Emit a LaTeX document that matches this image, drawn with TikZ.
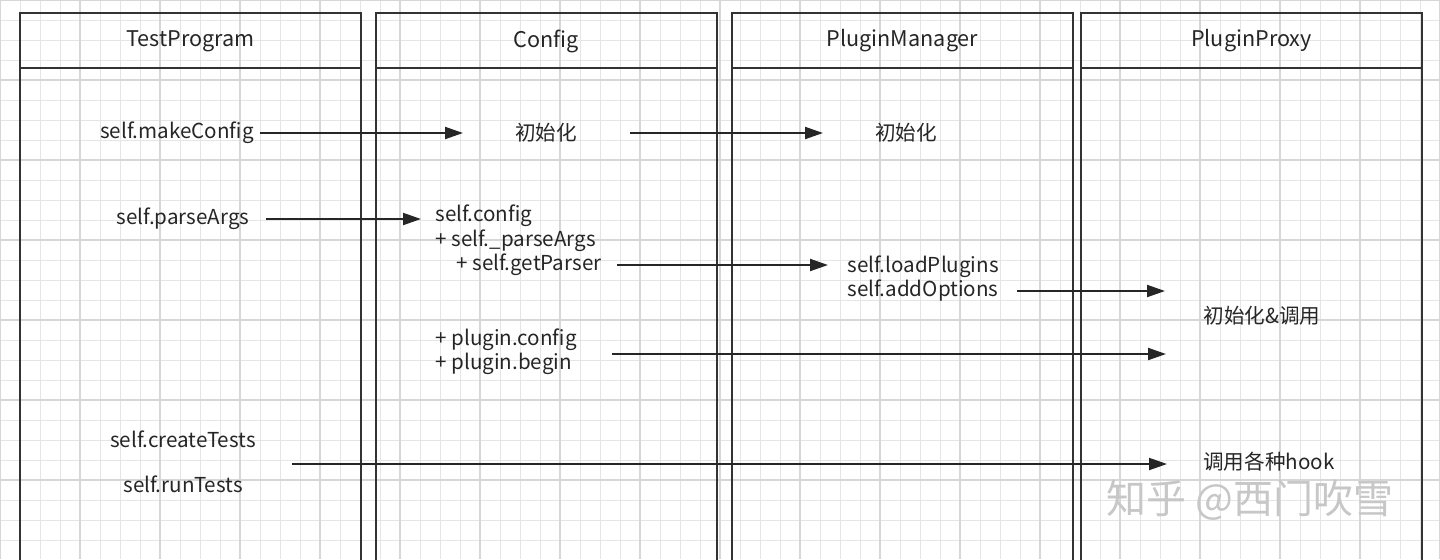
\documentclass[tikz,border=0pt]{standalone}
\usepackage{fontspec}
\setmainfont{Noto Sans CJK SC}
\usetikzlibrary{arrows.meta}
\begin{document}
\begin{tikzpicture}[x=0.5pt,y=-0.5pt,
  lane/.style={draw=black!80,line width=1.4pt},
  lbl/.style={font=\fontsize{10.3}{12}\selectfont,text=black!85,inner sep=0pt},
  lft/.style={lbl,anchor=west},
  msg/.style={draw=black!85,line width=1pt,-{Triangle[length=9pt,width=6pt]}}]
\useasboundingbox (0,0) rectangle (1440,559);
\fill[white] (0,0) rectangle (1440,559);
\foreach \x in {0,20,...,1440}{\draw[black!10,line width=0.5pt] (\x,0) -- (\x,559);}
\foreach \y in {0,20,...,559}{\draw[black!10,line width=0.5pt] (0,\y) -- (1440,\y);}
\foreach \x in {0,80,...,1440}{\draw[black!16,line width=0.6pt] (\x,0) -- (\x,559);}
\foreach \y in {0,80,...,559}{\draw[black!16,line width=0.6pt] (0,\y) -- (1440,\y);}
% lanes
\foreach \x/\n/\t in {20/a/TestProgram,376/b/Config,732/c/PluginManager,1081/d/PluginProxy}{
  \draw[lane] (\x,565) -- (\x,13) -- ++(341,0) -- ++(0,552);
  \draw[lane] (\x,68) -- ++(341,0);
  \node[lbl,font=\fontsize{10.8}{12}\selectfont] (h\n) at (\x+170.5,41) {\t};
}
% texts
\node[lbl] (mc) at (177,133) {self.makeConfig};
\node[lbl] (i1) at (546,133) {初始化};
\node[lbl] (i2) at (906,133) {初始化};
\node[lbl] (pa) at (183,219) {self.parseArgs};
\node[lft] (sc) at (435,216) {self.config};
\node[lft] (sp) at (435,241) {+ self.\_parseArgs};
\node[lft] (gp) at (456,265) {+ self.getParser};
\node[lft] (lp) at (847,267) {self.loadPlugins};
\node[lft] (ao) at (847,291) {self.addOptions};
\node[lbl] (ic) at (1262,316) {初始化\&调用};
\node[lft] (pc) at (435,340) {+ plugin.config};
\node[lft] (pb) at (435,364) {+ plugin.begin};
\node[lbl] (ct) at (183,439) {self.createTests};
\node[lbl] (rt) at (183,484) {self.runTests};
\node[lbl] (hk) at (1269,462) {调用各种hook};
\node[lbl,text=black!22,font=\fontsize{20}{22}\selectfont] (wm) at (1250,500) {知乎 @西门吹雪};
% coordinates
\coordinate (a1) at (260,133); \coordinate (b1) at (463,133);
\coordinate (a2) at (630,133); \coordinate (b2) at (823,133);
\coordinate (a3) at (266,219); \coordinate (b3) at (421,219);
\coordinate (a4) at (617,265); \coordinate (b4) at (828,265);
\coordinate (a5) at (1017,291); \coordinate (b5) at (1165,291);
\coordinate (a6) at (612,354); \coordinate (b6) at (1166,354);
\coordinate (a7) at (292,464); \coordinate (b7) at (1167,464);
\foreach \i in {1,...,7}{\draw[msg] (a\i) -- (b\i);}
\end{tikzpicture}
\end{document}
